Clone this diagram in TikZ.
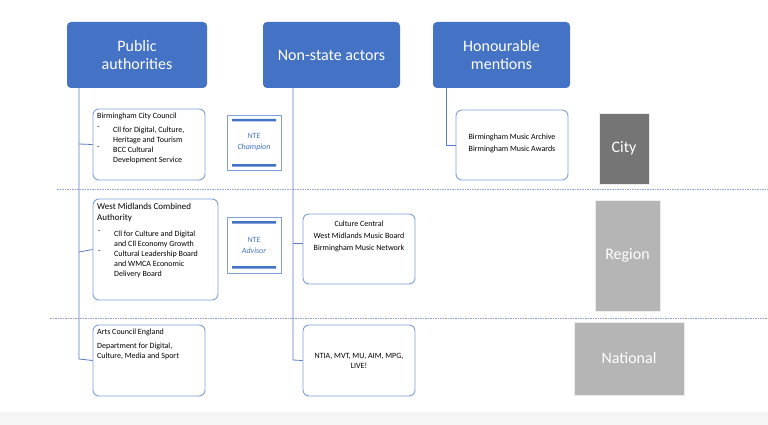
\documentclass[tikz,border=0pt]{standalone}
\usepackage{fontspec}
\setmainfont{Carlito}
\begin{document}
\begin{tikzpicture}[x=1pt,y=-1pt,
 hdr/.style={draw=none,fill=hblue,rounded corners=4pt,text=white,font=\fontsize{16}{18}\selectfont,align=center,inner sep=0pt},
 card/.style={draw=bline,line width=0.9pt,rounded corners=6pt,fill=white,inner sep=0pt},
 conn/.style={draw=cline,line width=0.8pt},
 sm/.style={font=\fontsize{8}{10}\selectfont,inner sep=0pt},
 lvl/.style={text=white,font=\fontsize{16}{18}\selectfont,inner sep=0pt,draw=white!85!gray},
 nte/.style={draw=bline,line width=0.8pt,fill=white,inner sep=0pt},
 sep/.style={draw=cline!70,dash pattern=on 1.5pt off 1pt,line width=0.7pt}]
\definecolor{hblue}{HTML}{4472C4}
\definecolor{bline}{HTML}{7F9FDA}
\definecolor{cline}{HTML}{5B7BC0}
\useasboundingbox (0,0) rectangle (768,425);
\fill[gray!8] (0,412) rectangle (768,425);
% separators
\draw[sep] (57,189) -- (768,189);
\draw[sep] (50,318) -- (768,318);
% headers
\node[hdr,minimum width=140,minimum height=66] (pa) at (137,55) {Public\\authorities};
\node[hdr,minimum width=137,minimum height=66] (ns) at (331.5,55) {Non-state actors};
\node[hdr,minimum width=137,minimum height=66] (hm) at (501.5,55) {Honourable\\mentions};
% cards
\node[card,minimum width=112,minimum height=71] (bcc) at (149,144.5) {};
\node[sm,anchor=north west,align=left] at (97,113) {Birmingham City Council};
\node[sm,anchor=north west,align=left] at (97,127) {-\\ \\-\\ };
\node[sm,anchor=north west,align=left] at (113,127) {Cll for Digital, Culture,\\Heritage and Tourism\\BCC Cultural\\Development Service};
\node[card,minimum width=125,minimum height=101] (wm) at (155.5,249.5) {};
\node[sm,anchor=north west,align=left,font=\fontsize{9}{11}\selectfont] at (97,203) {West Midlands Combined\\Authority};
\node[sm,anchor=north west,align=left] at (98,231) {-\\ \\-\\ \\ };
\node[sm,anchor=north west,align=left] at (114,231) {Cll for Culture and Digital\\and Cll Economy Growth\\Cultural Leadership Board\\and WMCA Economic\\Delivery Board};
\node[card,minimum width=112,minimum height=71] (ace) at (149,360.5) {};
\node[sm,anchor=north west,align=left] at (97,329) {Arts Council England};
\node[sm,anchor=north west,align=left] at (97,343) {Department for Digital,\\Culture, Media and Sport};
\node[card,minimum width=112,minimum height=70] (cc) at (359,249) {};
\node[sm,align=center] at (359,236) {Culture Central\\[2pt]West Midlands Music Board\\[2pt]Birmingham Music Network};
\node[card,minimum width=112,minimum height=71] (nt) at (359,360.5) {};
\node[sm,align=center] at (359,361) {NTIA, MVT, MU, AIM, MPG,\\LIVE!};
\node[card,minimum width=112,minimum height=70] (bm) at (512,145) {};
\node[sm,align=center] at (512,143) {Birmingham Music Archive\\[2pt]Birmingham Music Awards};
% NTE
\node[nte,minimum width=54,minimum height=55] (ch) at (254,142.5) {};
\fill[hblue] (232,119) rectangle (276,121.5) (232,164) rectangle (276,166.5);
\node[sm,text=hblue,align=center,font=\itshape\fontsize{8}{11}\selectfont] at (ch) {NTE\\Champion};
\node[nte,minimum width=54,minimum height=56] (ad) at (254,245) {};
\fill[hblue] (232,221) rectangle (276,223.5) (232,266) rectangle (276,268.5);
\node[sm,text=hblue,align=center,font=\itshape\fontsize{8}{11}\selectfont] at (ad) {NTE\\Advisor};
% levels
\node[lvl,fill=gray!105!black,fill=black!54,minimum width=50,minimum height=71] (city) at (624,148.5) {City};
\node[lvl,fill=black!29,minimum width=65,minimum height=111] (reg) at (627.5,255.5) {Region};
\node[lvl,fill=black!29,minimum width=110,minimum height=73] (nat) at (629,358.5) {National};
% connectors
\draw[conn] (79,88) -- (79,359) -- (ace.west);
\draw[conn] (79,144) -- (bcc.west);
\draw[conn] (79,252) -- (wm.west);
\draw[conn] (293,88) -- (293,360) -- (nt.west);
\draw[conn] (293,243) -- (cc.west |- 0,243);
\draw[conn] (446,88) -- (446,145) -- (bm.west);
\end{tikzpicture}
\end{document}
